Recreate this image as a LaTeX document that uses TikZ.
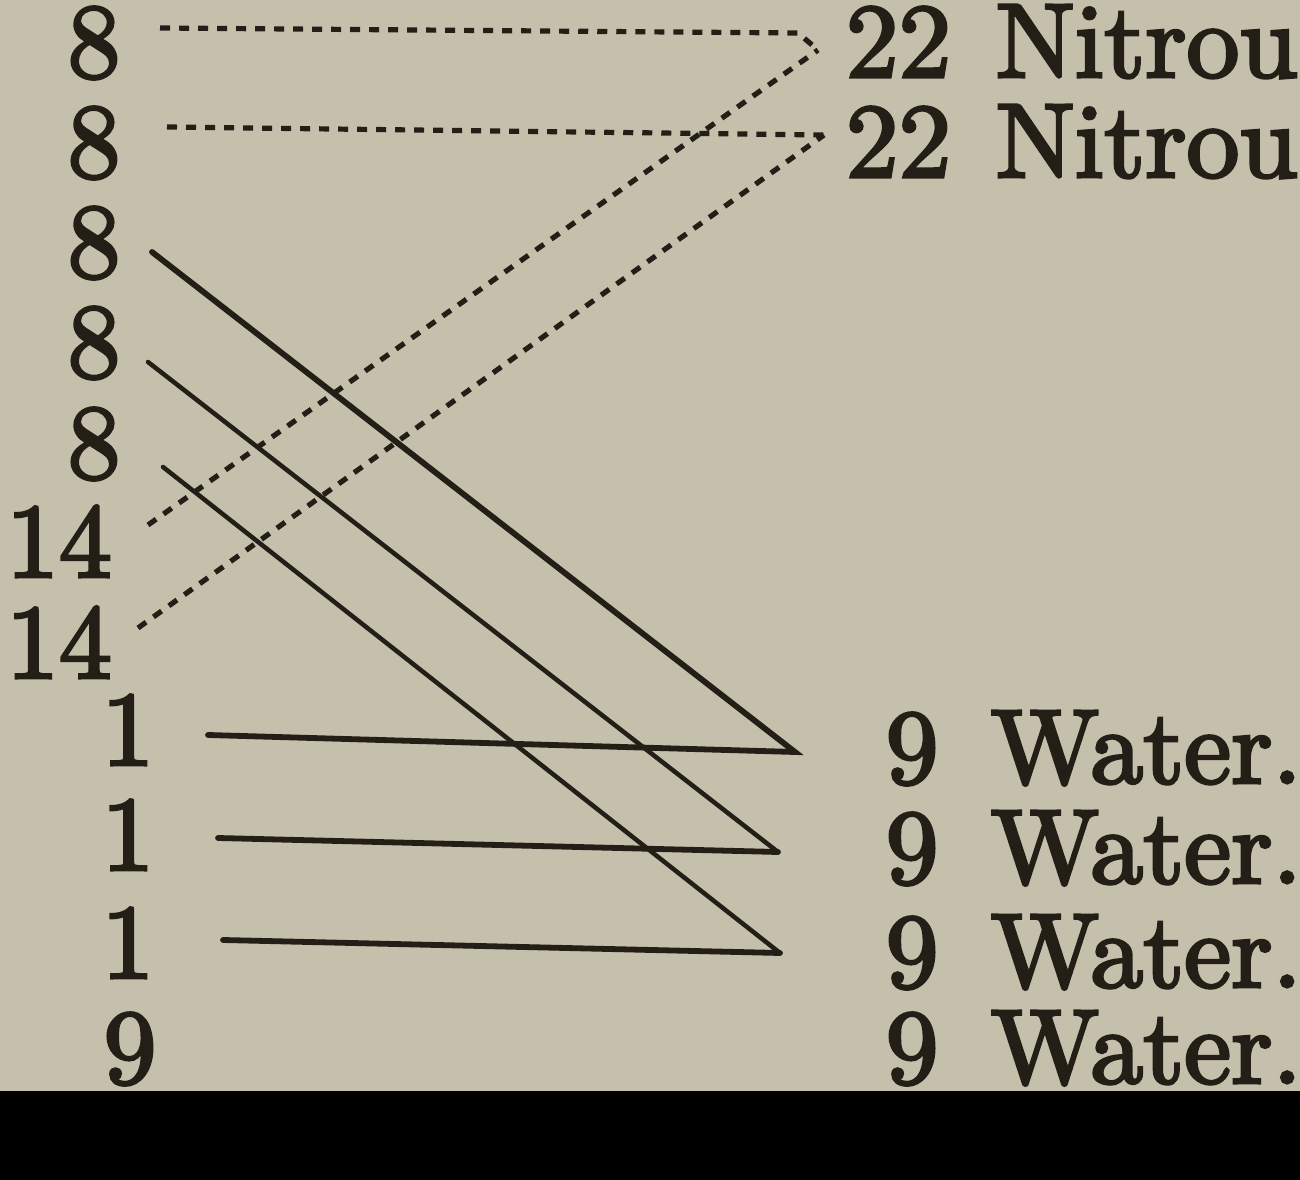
\documentclass[tikz,border=0pt]{standalone}
\usepackage{fontspec}
\newfontfamily\engr{lmroman10-regular.otf}[FakeBold=3]
\definecolor{paper}{RGB}{197,192,172}
\definecolor{ink}{RGB}{36,31,22}
\begin{document}
\begin{tikzpicture}[x=0.01cm,y=-0.01cm,
  numtxt/.style={font=\engr\fontsize{30}{30}\selectfont, text=ink, inner sep=0pt, anchor=base},
  lbltxt/.style={font=\engr\fontsize{30}{30}\selectfont, text=ink, inner sep=0pt, anchor=base west},
  bondthick/.style={draw=ink, line width=0.058cm, line join=miter, line cap=round},
  bondthin/.style={draw=ink, line width=0.045cm, line join=miter, line cap=round},
  dashbond/.style={draw=ink, line width=0.052cm, dash pattern=on 0.1cm off 0.09cm}]
\useasboundingbox (0,0) rectangle (1300,1180);
\clip (0,0) rectangle (1300,1180);
\fill[paper] (0,0) rectangle (1300,1091);
\fill[black] (0,1091) rectangle (1300,1180);

% left column
\node[numtxt] (l1) at (94,77) {8};
\node[numtxt] (l2) at (94,177) {8};
\node[numtxt] (l3) at (94,277) {8};
\node[numtxt] (l4) at (94,377) {8};
\node[numtxt] (l5) at (94,478) {8};
\node[numtxt] (l6) at (59,577) {14};
\node[numtxt] (l7) at (59,678) {14};
\node[numtxt] (l8) at (128,765) {1};
\node[numtxt] (l9) at (128,870) {1};
\node[numtxt] (l10) at (128,978) {1};
\node[numtxt] (l11) at (130,1083) {9};

% right column
\node[lbltxt] (r1) at (845,77) {22};
\node[lbltxt] (n1) at (995,77) {Nitrou};
\node[lbltxt] (r2) at (845,177) {22};
\node[lbltxt] (n2) at (995,177) {Nitrou};
\node[lbltxt] (q1) at (885,783) {9};
\node[lbltxt] (v1) at (990,783) {Water.};
\node[lbltxt] (q2) at (885,883) {9};
\node[lbltxt] (v2) at (990,883) {Water.};
\node[lbltxt] (q3) at (885,987) {9};
\node[lbltxt] (v3) at (990,987) {Water.};
\node[lbltxt] (q4) at (885,1083) {9};
\node[lbltxt] (v4) at (990,1083) {Water.};

% connector end points
\coordinate (a1) at (160,28);
\coordinate (k1) at (798,33);
\coordinate (p1) at (818,50);
\coordinate (a2) at (167,127);
\coordinate (p2) at (824,135);
\coordinate (c1) at (148,525);
\coordinate (d1) at (138,628);
\coordinate (s1) at (152,252);
\coordinate (s2) at (148,362);
\coordinate (s3) at (163,467);
\coordinate (h1) at (208,735);
\coordinate (h2) at (218,838);
\coordinate (h3) at (223,940);
\coordinate (x1) at (795,752);
\coordinate (x2) at (778,852);
\coordinate (x3) at (780,953);

% dotted bonds to nitrous
\draw[dashbond] (a1) -- (k1) -- (p1);
\draw[dashbond] (a2) -- (p2);
\draw[dashbond] (c1) -- (p1);
\draw[dashbond] (d1) -- (p2);

% solid bonds to water
\draw[bondthick] (s1) -- (x1) -- (h1);
\draw[bondthin] (s2) -- (x2);
\draw[bondthick] (h2) -- (x2);
\draw[bondthin] (s3) -- (x3);
\draw[bondthick] (h3) -- (x3);
\end{tikzpicture}
\end{document}
